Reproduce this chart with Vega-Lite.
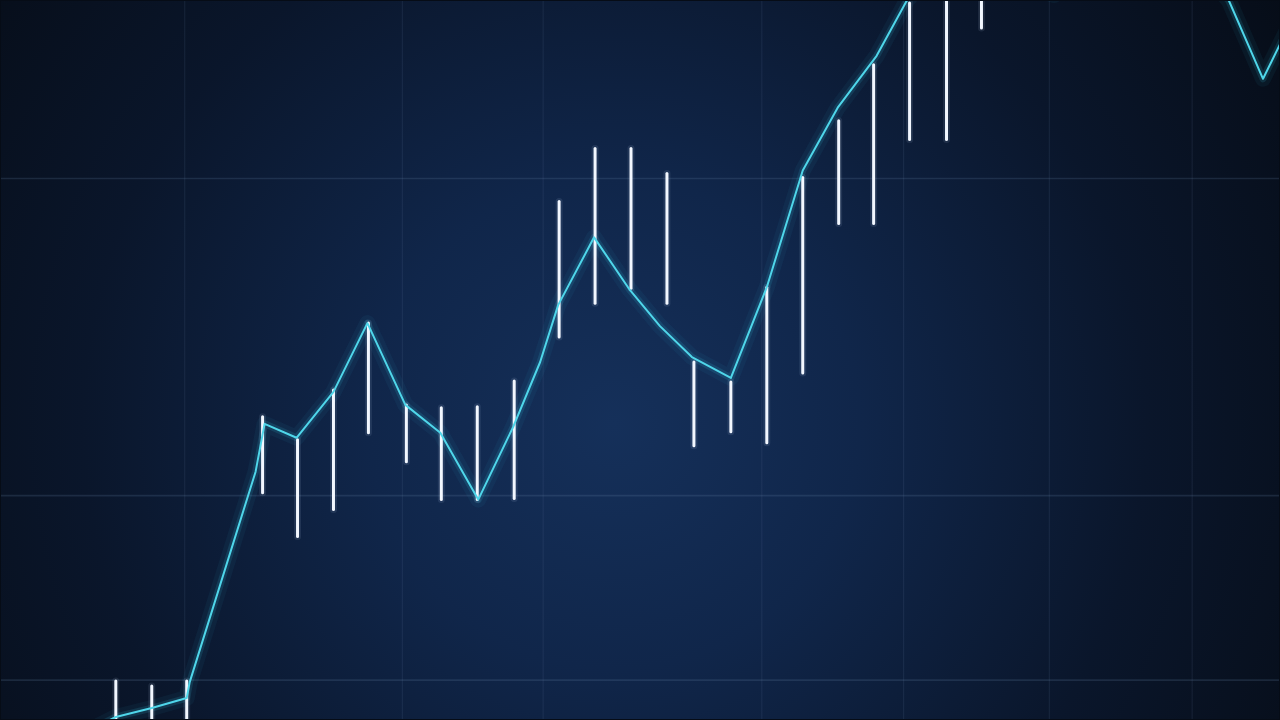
{
  "$schema": "https://vega.github.io/schema/vega-lite/v6.json",
  "width": 1280,
  "height": 720,
  "autosize": {"type": "fit", "contains": "padding"},
  "padding": 0,
  "background": "#060c16",
  "config": {"view": {"stroke": "transparent", "strokeWidth": 0}},
  "datasets": {
    "bg": [{"name": "bg"}],
    "vgrid": [{"x": 184}, {"x": 402}, {"x": 543}, {"x": 762}, {"x": 904}, {"x": 1050}, {"x": 1193}],
    "hgrid": [{"y": 178}, {"y": 496}, {"y": 681}],
    "price": [
      {"x": 95, "y": 728}, {"x": 115, "y": 718}, {"x": 151, "y": 709}, {"x": 186, "y": 699},
      {"x": 189, "y": 683}, {"x": 255, "y": 472}, {"x": 264, "y": 424}, {"x": 296, "y": 438},
      {"x": 333, "y": 392}, {"x": 367, "y": 323}, {"x": 405, "y": 405}, {"x": 440, "y": 433},
      {"x": 478, "y": 500}, {"x": 513, "y": 427}, {"x": 540, "y": 362}, {"x": 558, "y": 305},
      {"x": 594, "y": 237}, {"x": 630, "y": 290}, {"x": 660, "y": 326}, {"x": 692, "y": 357},
      {"x": 731, "y": 378}, {"x": 767, "y": 287}, {"x": 803, "y": 170}, {"x": 838, "y": 107},
      {"x": 877, "y": 55}, {"x": 907, "y": 0}, {"x": 940, "y": -40}, {"x": 1055, "y": -6},
      {"x": 1150, "y": -90}, {"x": 1230, "y": 0}, {"x": 1264, "y": 78}, {"x": 1295, "y": 15}
    ],
    "bars": [
      {"x": 115, "top": 682, "bot": 724}, {"x": 151, "top": 687, "bot": 724}, {"x": 186, "top": 682, "bot": 724},
      {"x": 262, "top": 417, "bot": 493}, {"x": 297, "top": 440, "bot": 537}, {"x": 333, "top": 390, "bot": 510},
      {"x": 368, "top": 323, "bot": 433}, {"x": 406, "top": 405, "bot": 462}, {"x": 441, "top": 408, "bot": 500},
      {"x": 477, "top": 407, "bot": 500}, {"x": 514, "top": 381, "bot": 499}, {"x": 559, "top": 201, "bot": 337},
      {"x": 595, "top": 148, "bot": 303}, {"x": 631, "top": 148, "bot": 288}, {"x": 667, "top": 173, "bot": 303},
      {"x": 694, "top": 362, "bot": 446}, {"x": 731, "top": 382, "bot": 432}, {"x": 767, "top": 287, "bot": 443},
      {"x": 803, "top": 177, "bot": 373}, {"x": 839, "top": 120, "bot": 223}, {"x": 874, "top": 64, "bot": 223},
      {"x": 910, "top": 2, "bot": 139}, {"x": 947, "top": -10, "bot": 139}, {"x": 982, "top": -10, "bot": 27}
    ]
  },
  "layer": [
    {
      "data": {"name": "bg"},
      "mark": {
        "type": "rect",
        "strokeWidth": 0,
        "fill": {
          "gradient": "radial",
          "x1": 0.48, "y1": 0.55, "r1": 0,
          "x2": 0.48, "y2": 0.55, "r2": 0.64,
          "stops": [
            {"offset": 0, "color": "#15305a"},
            {"offset": 0.3, "color": "#10264a"},
            {"offset": 0.65, "color": "#0a162b"},
            {"offset": 1, "color": "#060c16"}
          ]
        }
      }
    },
    {
      "data": {"name": "vgrid"},
      "mark": {"type": "rule", "color": "#6a86a8", "strokeWidth": 1.2, "opacity": 0.13},
      "encoding": {
        "x": {"field": "x", "type": "quantitative", "scale": {"domain": [0, 1280], "nice": false, "zero": false}, "axis": null}
      }
    },
    {
      "data": {"name": "hgrid"},
      "mark": {"type": "rule", "color": "#6a86a8", "strokeWidth": 1.6, "opacity": 0.2},
      "encoding": {
        "y": {"field": "y", "type": "quantitative", "scale": {"domain": [0, 720], "reverse": true, "nice": false, "zero": false}, "axis": null}
      }
    },
    {
      "data": {"name": "price"},
      "mark": {"type": "line", "color": "#2fb8d8", "strokeWidth": 16, "opacity": 0.06, "clip": true, "strokeJoin": "round"},
      "encoding": {
        "x": {"field": "x", "type": "quantitative", "scale": {"domain": [0, 1280], "nice": false, "zero": false}, "axis": null},
        "y": {"field": "y", "type": "quantitative", "scale": {"domain": [0, 720], "reverse": true, "nice": false, "zero": false}, "axis": null}
      }
    },
    {
      "data": {"name": "price"},
      "mark": {"type": "line", "color": "#3cc8e4", "strokeWidth": 7, "opacity": 0.14, "clip": true, "strokeJoin": "round"},
      "encoding": {
        "x": {"field": "x", "type": "quantitative", "axis": null},
        "y": {"field": "y", "type": "quantitative", "axis": null}
      }
    },
    {
      "data": {"name": "bars"},
      "mark": {"type": "rule", "color": "#cfe6ff", "strokeWidth": 7, "opacity": 0.1, "strokeCap": "round", "clip": true},
      "encoding": {
        "x": {"field": "x", "type": "quantitative", "axis": null},
        "y": {"field": "top", "type": "quantitative", "axis": null},
        "y2": {"field": "bot"}
      }
    },
    {
      "data": {"name": "bars"},
      "mark": {"type": "rule", "color": "#f2f7ff", "strokeWidth": 3, "strokeCap": "round", "clip": true},
      "encoding": {
        "x": {"field": "x", "type": "quantitative", "axis": null},
        "y": {"field": "top", "type": "quantitative", "axis": null},
        "y2": {"field": "bot"}
      }
    },
    {
      "data": {"name": "price"},
      "mark": {"type": "line", "color": "#4fd6ea", "strokeWidth": 2, "clip": true, "strokeJoin": "round"},
      "encoding": {
        "x": {"field": "x", "type": "quantitative", "axis": null},
        "y": {"field": "y", "type": "quantitative", "axis": null}
      }
    }
  ]
}
